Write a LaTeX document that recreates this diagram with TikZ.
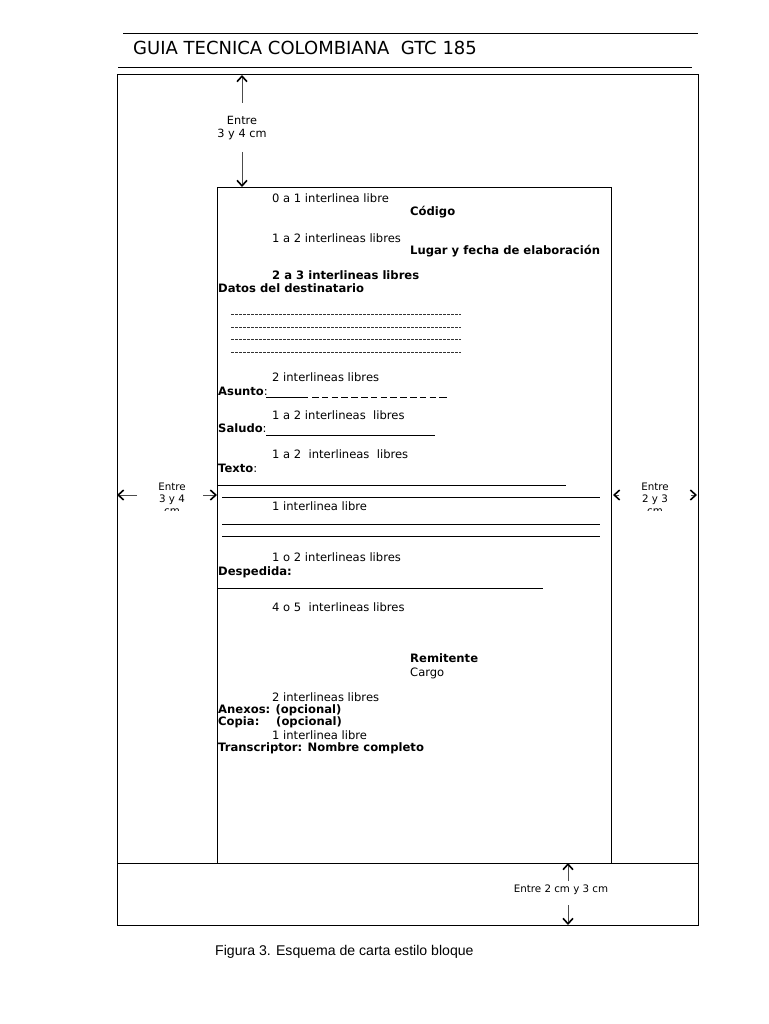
\documentclass[tikz,border=0pt]{standalone}
\usepackage{fontspec}
\setmainfont{DejaVu Sans}
\newfontfamily\capfont{Liberation Sans}
\usetikzlibrary{arrows.meta}
\begin{document}
\begin{tikzpicture}[x=1pt,y=-1pt,
  frame/.style={line width=1pt},
  rule/.style={line width=0.6pt},
  hyph/.style={line width=0.6pt, draw=black!80, dash pattern=on 3pt off 1pt},
  txt/.style={anchor=base west, inner sep=0pt, font=\fontsize{11.55}{13}\selectfont},
  btxt/.style={anchor=base west, inner sep=0pt, font=\fontsize{11.6}{13}\selectfont\bfseries},
  mlabel/.style={align=center, inner sep=0pt, font=\fontsize{10.3}{12}\selectfont},
  arr/.style={line width=0.7pt, draw=black!70, -{Straight Barb[length=5.5pt,width=10pt,line width'=1.6pt,color=black]}}
]
\useasboundingbox (0,0) rectangle (768,1024);
% header
\draw[rule] (123,33) -- (698,33);
\node[anchor=base west, inner sep=0pt, font=\fontsize{18}{20}\selectfont] (title) at (133,55) {GUIA TECNICA COLOMBIANA\ \ GTC 185};
\draw[rule] (118,67) -- (692,67);
% frames
\draw[frame] (117,75) rectangle (698,925);
\draw[frame] (117,863) -- (698,863);
\draw[frame] (217,188) rectangle (611,863);
% top margin
\node[mlabel, font=\fontsize{11.3}{13}\selectfont] (topL) at (242,128) {Entre\\3 y 4 cm};
\coordinate (topA1) at (242,103); \coordinate (topT1) at (242,75);
\coordinate (topA2) at (242,152); \coordinate (topT2) at (242,187);
\draw[arr] (topA1) -- (topT1);
\draw[arr] (topA2) -- (topT2);
% left margin
\begin{scope}
\clip (130,470) rectangle (210,510);
\node[mlabel] (leftL) at (172,499) {Entre\\3 y 4\\cm};
\end{scope}
\coordinate (lA1) at (137,495); \coordinate (lT1) at (117,495);
\coordinate (lA2) at (203,495); \coordinate (lT2) at (217,495);
\draw[arr] (lA1) -- (lT1);
\draw[arr] (lA2) -- (lT2);
% right margin
\begin{scope}
\clip (625,470) rectangle (690,510);
\node[mlabel] (rightL) at (655,499) {Entre\\2 y 3\\cm};
\end{scope}
\coordinate (rA1) at (619,495); \coordinate (rT1) at (613,495);
\coordinate (rA2) at (691,495); \coordinate (rT2) at (697,495);
\draw[arr] (rA1) -- (rT1);
\draw[arr] (rA2) -- (rT2);
% bottom margin
\node[mlabel] (botL) at (561,890) {Entre 2 cm y 3 cm};
\coordinate (bA1) at (568,881); \coordinate (bT1) at (568,863);
\coordinate (bA2) at (568,905); \coordinate (bT2) at (568,925);
\draw[arr] (bA1) -- (bT1);
\draw[arr] (bA2) -- (bT2);
% letter contents
\node[txt] (l1) at (272,203) {0 a 1 interlinea libre};
\node[btxt] (cod) at (410,216) {Código};
\node[txt] (l2) at (272,242) {1 a 2 interlineas libres};
\node[btxt] (lug) at (410,254) {Lugar y fecha de elaboración};
\node[btxt] (l3) at (272,279) {2 a 3 interlineas libres};
\node[btxt] (dat) at (218,292) {Datos del destinatario};
\draw[hyph] (231,314) -- (461,314);
\draw[hyph] (231,327) -- (461,327);
\draw[hyph] (231,339) -- (461,339);
\draw[hyph] (231,352) -- (461,352);
\node[txt] (l4) at (272,381) {2 interlineas libres};
\node[txt] (asu) at (218,395) {\textbf{Asunto}:};
\draw[rule] (266,397) -- (308,397);
\draw[rule, dash pattern=on 6.5pt off 3.3pt] (312,397) -- (440,397);
\draw[rule] (440,397) -- (447,397);
\node[txt] (l5) at (272,419) {1 a 2 interlineas\ \ libres};
\node[txt] (sal) at (218,432) {\textbf{Saludo}:};
\draw[rule] (266,435) -- (435,435);
\node[txt] (l6) at (272,458) {1 a 2\ \ interlineas\ \ libres};
\node[txt] (tex) at (218,472) {\textbf{Texto}:};
\draw[rule] (217,485) -- (566,485);
\draw[rule] (222,497) -- (600,497);
\node[txt] (l7) at (272,510) {1 interlinea libre};
\draw[rule] (222,524) -- (600,524);
\draw[rule] (222,536) -- (600,536);
\node[txt] (l8) at (272,561) {1 o 2 interlineas libres};
\node[btxt] (des) at (218,575) {Despedida:};
\draw[rule] (217,588) -- (543,588);
\node[txt] (l9) at (272,611) {4 o 5\ \ interlineas libres};
\node[btxt] (rem) at (410,662) {Remitente};
\node[txt] (car) at (410,676) {Cargo};
\node[txt] (l10) at (272,701) {2 interlineas libres};
\node[btxt] (ane) at (218,713) {Anexos: (opcional)};
\node[btxt] (cop) at (218,725) {\makebox[58pt][l]{Copia:}(opcional)};
\node[txt] (l11) at (272,739) {1 interlinea libre};
\node[btxt] (tra) at (218,751) {Transcriptor: Nombre completo};
% caption
\node[anchor=base west, inner sep=0pt, font=\capfont\fontsize{14.1}{16}\selectfont] (cap) at (215,955) {Figura 3. Esquema de carta estilo bloque};
\end{tikzpicture}
\end{document}
